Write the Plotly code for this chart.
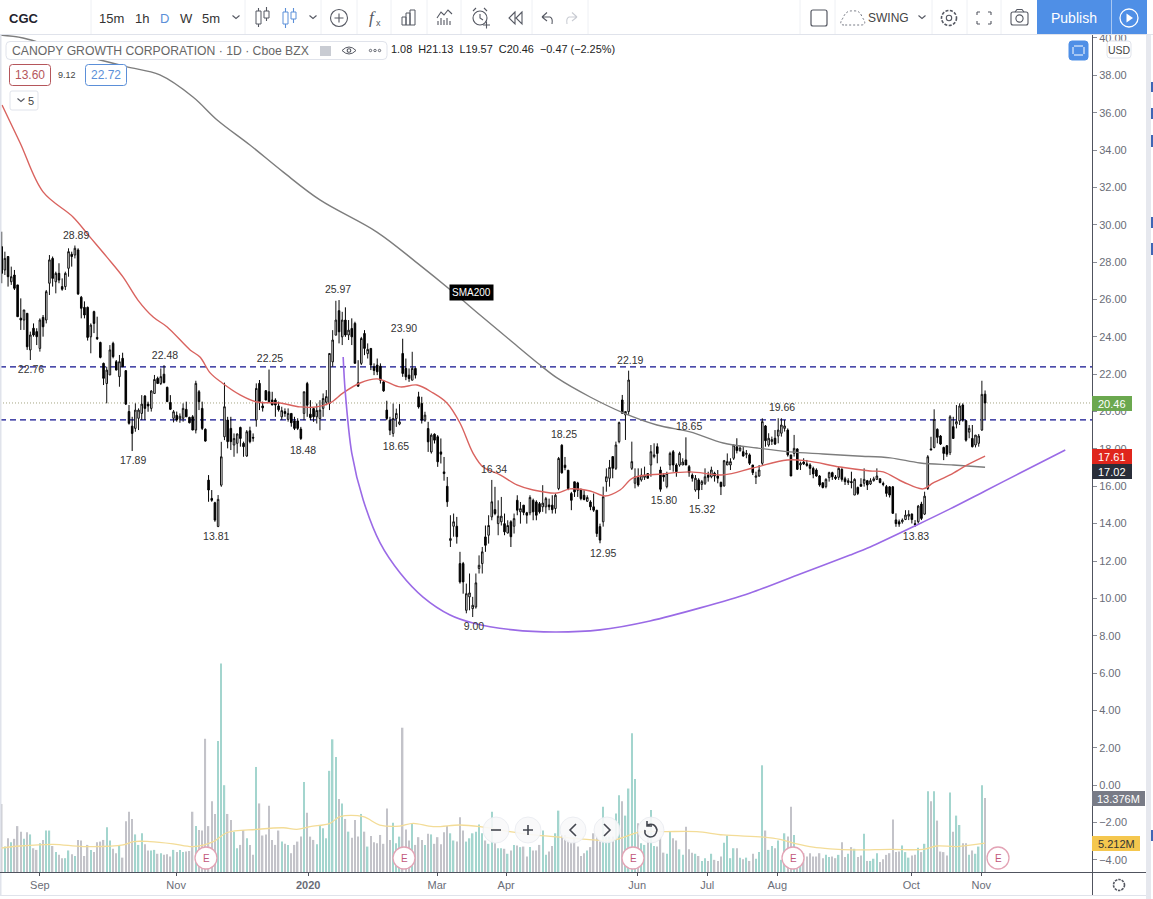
#!/usr/bin/env python3
"""CGC daily candles with SMA50, SMA200, cup curve and volume, laid out like the trading screen."""
import plotly.graph_objects as go

# daily bars, oldest first
opens = [
    28.83,27.58,28.30,26.95,27.31,26.78,25.00,24.90,25.26,23.30,
    24.46,24.28,23.38,25.04,24.90,26.87,28.20,26.95,27.40,26.69,
    26.69,27.67,28.42,28.38,28.65,26.12,25.58,25.58,24.00,25.35,
    23.97,23.70,22.58,21.50,21.96,23.65,22.67,21.87,22.85,22.19,
    20.00,19.22,19.10,19.64,19.90,20.83,20.40,20.17,20.97,21.78,
    21.50,22.00,21.30,20.49,19.64,19.80,19.60,19.64,20.12,19.69,
    19.72,19.01,21.06,20.17,19.05,16.33,15.35,15.12,13.85,16.06,
    18.65,19.55,19.10,18.21,18.30,19.15,18.30,17.62,18.97,18.62,
    19.55,21.51,20.30,21.12,21.06,20.62,20.62,20.30,19.72,20.00,
    19.58,19.90,19.50,19.50,19.06,19.90,21.50,19.86,20.16,19.72,
    19.63,20.17,20.50,20.43,22.66,24.09,25.40,24.00,24.90,24.10,
    24.45,24.72,21.54,22.58,24.18,23.10,23.38,22.40,22.49,22.43,
    21.59,20.08,19.54,18.83,19.63,19.33,23.11,22.31,21.95,21.68,
    22.31,20.79,20.43,19.54,19.09,17.84,18.79,18.65,17.84,16.77,
    16.00,13.10,13.86,13.86,11.86,11.86,9.36,10.08,9.45,9.54,
    11.60,11.86,13.29,13.38,14.36,14.75,14.00,14.10,14.00,13.50,
    14.10,13.86,15.25,14.63,14.99,14.58,14.58,15.25,15.16,15.07,
    14.90,14.90,15.00,14.99,14.81,15.88,18.20,17.13,16.86,15.61,
    16.24,16.18,15.83,15.52,15.20,15.16,14.90,14.72,13.84,14.10,
    16.25,16.43,17.59,16.96,18.39,20.62,19.82,20.00,16.96,16.16,
    16.48,16.34,16.48,16.68,17.14,17.59,18.12,16.87,16.60,15.98,
    17.14,17.85,17.14,17.14,17.14,17.41,17.05,16.60,15.80,16.34,
    16.10,16.16,16.60,16.51,16.70,16.55,16.21,16.02,17.14,17.14,
    17.50,18.12,17.91,17.85,17.71,17.68,17.14,16.48,16.55,17.23,
    19.23,18.21,18.40,18.57,18.69,18.84,19.10,19.01,17.68,17.76,
    18.00,17.14,17.30,17.20,17.14,16.96,16.87,16.55,16.19,15.98,
    16.46,16.73,16.50,16.48,16.91,16.40,16.20,16.25,15.53,15.94,
    16.10,16.16,16.30,16.12,16.30,16.37,16.40,16.15,15.98,15.97,
    15.97,14.20,14.10,14.10,14.22,14.40,14.51,14.00,14.10,15.05,
    14.51,15.88,18.00,18.08,19.05,18.69,18.08,18.17,17.80,19.19,
    19.33,19.50,20.35,19.51,18.90,18.56,18.21,18.30,19.01,20.93,
]
highs = [
    29.63,28.56,28.30,27.76,27.58,26.78,26.06,25.44,25.26,24.28,
    24.72,24.46,24.99,25.17,26.51,28.38,28.30,27.49,27.94,27.13,
    27.49,28.74,28.56,28.89,28.74,26.19,25.90,25.62,24.72,25.40,
    25.08,23.74,22.62,22.40,23.56,23.74,22.76,23.03,23.15,22.22,
    20.35,19.72,20.44,20.17,20.88,20.88,20.53,21.15,21.96,21.87,
    22.31,22.48,21.33,20.88,20.08,20.00,19.90,20.44,20.53,19.72,
    19.81,21.65,21.15,20.53,19.10,16.60,15.80,15.17,15.53,18.38,
    21.55,19.72,19.72,18.83,18.83,19.19,18.39,19.01,19.19,18.83,
    21.51,21.69,20.53,21.15,22.25,21.06,20.71,20.53,20.26,20.17,
    20.17,19.90,19.72,19.64,19.18,21.06,21.59,20.61,20.16,20.43,
    20.61,20.97,21.15,23.11,24.36,25.93,25.97,25.34,25.58,24.90,
    24.99,24.81,22.75,24.00,24.36,23.65,23.38,22.58,22.84,22.58,
    21.68,20.58,19.72,20.43,20.16,20.40,23.90,22.84,22.31,23.20,
    22.36,21.06,20.79,19.99,19.45,18.83,18.83,18.74,18.56,17.57,
    16.50,14.45,14.54,14.36,12.49,11.95,10.79,11.33,10.08,11.33,
    12.30,12.75,13.90,14.45,16.34,15.97,15.25,15.43,14.54,14.18,
    14.18,14.54,15.52,15.16,14.99,14.63,15.52,15.34,15.25,15.16,
    16.06,15.43,15.34,15.52,15.61,17.57,18.25,17.57,16.86,15.70,
    16.24,16.24,15.88,15.79,15.52,15.25,15.61,14.72,14.00,15.98,
    16.96,17.41,17.59,18.39,19.46,20.89,20.00,22.19,18.39,16.96,
    16.96,16.96,17.05,16.70,18.21,18.30,18.30,17.05,16.70,16.78,
    17.85,17.94,17.23,17.85,17.50,18.62,17.14,16.69,16.60,16.43,
    16.34,16.96,16.78,17.05,16.78,16.87,16.25,17.41,17.76,17.50,
    18.21,18.57,18.21,18.12,17.94,17.76,17.14,16.78,17.14,19.64,
    19.28,18.84,18.66,19.01,19.64,19.64,19.55,19.10,17.68,18.75,
    18.03,17.32,17.50,17.41,17.23,17.05,16.96,16.60,16.19,16.43,
    16.78,16.78,16.60,17.05,16.96,16.51,16.43,16.78,16.43,15.98,
    16.43,16.96,16.34,16.43,16.51,16.96,16.43,16.25,16.07,16.01,
    16.01,14.55,14.22,14.28,14.72,14.72,14.55,14.19,15.00,15.17,
    15.71,17.67,18.65,20.12,19.10,18.74,18.12,18.21,19.81,19.72,
    20.35,20.44,20.44,19.55,19.28,19.28,18.74,18.80,21.65,21.13,
]
lows = [
    26.87,27.31,26.69,26.78,26.51,25.08,24.37,24.37,23.30,22.76,
    24.01,23.56,23.21,24.01,24.72,26.24,26.69,26.33,26.87,26.47,
    26.51,27.22,27.76,28.20,26.24,24.99,24.99,23.80,23.12,24.20,
    23.83,22.85,21.42,20.44,21.96,22.85,22.22,21.33,22.40,20.35,
    19.30,17.89,18.92,19.01,19.55,19.55,19.99,20.00,20.97,21.50,
    21.42,21.51,20.53,20.08,19.42,19.46,19.40,19.46,19.72,19.37,
    19.01,18.83,20.08,19.01,18.39,15.17,15.17,14.10,13.81,15.97,
    18.47,18.03,17.94,17.58,17.76,18.12,17.58,17.58,18.30,18.39,
    19.19,20.08,20.00,20.60,20.53,20.35,19.72,20.00,19.55,19.72,
    19.46,19.19,19.01,19.01,18.48,19.54,19.72,19.54,19.45,19.36,
    19.00,19.72,20.34,20.08,22.40,24.09,23.65,23.56,24.00,23.83,
    23.56,22.58,21.33,22.49,23.02,22.84,22.22,21.95,21.95,21.50,
    21.06,19.54,18.74,18.65,19.18,19.27,21.86,21.68,21.59,21.68,
    21.77,20.16,19.36,19.45,17.84,17.75,18.29,17.04,17.22,16.30,
    14.90,12.75,13.30,12.93,10.79,10.25,9.20,9.36,9.00,9.45,
    11.33,11.33,12.49,12.93,14.18,14.45,13.38,13.90,13.38,13.47,
    12.75,13.47,14.45,14.00,14.45,14.00,14.45,14.18,14.18,14.54,
    14.63,14.54,14.72,14.54,14.54,15.79,16.68,16.86,15.79,14.72,
    15.43,15.43,15.25,15.25,15.16,14.72,14.63,13.29,12.95,13.84,
    15.71,15.98,16.43,16.87,18.30,19.91,18.48,19.82,16.87,15.89,
    15.98,16.25,16.34,16.43,16.51,17.50,17.23,15.71,16.25,15.89,
    16.87,16.78,16.51,17.05,17.14,17.14,16.51,16.25,15.71,15.32,
    15.80,16.07,16.25,16.43,16.25,16.16,15.53,15.98,17.14,16.87,
    17.41,17.76,17.85,17.59,17.50,17.14,16.60,16.12,16.51,17.14,
    18.12,18.12,18.21,18.21,18.30,18.66,18.93,17.59,16.55,17.59,
    16.87,16.87,17.14,17.05,16.60,16.43,16.51,15.98,15.89,15.89,
    16.25,16.34,16.34,16.34,16.25,16.07,16.07,15.89,15.53,15.53,
    15.98,15.98,15.80,16.07,16.25,16.34,16.16,16.00,15.44,15.40,
    14.55,13.83,13.83,14.00,14.19,14.19,14.01,13.83,14.00,14.19,
    14.46,15.80,17.94,18.03,18.30,18.21,17.40,17.58,17.67,18.56,
    19.10,19.28,19.46,18.39,18.57,18.08,18.08,18.12,18.97,19.57,
]
closes = [
    27.40,28.20,27.22,27.22,26.60,25.08,24.90,25.44,23.47,24.10,
    24.10,24.01,24.90,24.54,26.42,28.12,27.13,27.40,27.04,26.55,
    27.40,28.56,28.30,28.74,26.30,25.53,25.17,23.97,24.63,24.72,
    23.90,22.90,21.78,22.22,23.30,22.94,22.22,22.67,22.40,20.40,
    19.37,18.83,20.08,20.08,20.40,20.17,20.30,21.10,21.72,21.50,
    21.87,21.55,20.53,20.12,19.99,19.55,19.75,20.17,19.72,19.40,
    19.01,21.51,20.53,19.10,18.42,15.80,15.25,14.19,15.30,17.58,
    20.26,18.39,18.39,18.56,18.80,18.56,18.12,18.92,18.39,18.58,
    21.24,20.53,20.20,20.62,20.53,20.35,20.35,20.10,20.05,19.90,
    19.90,19.40,19.10,19.10,18.56,21.06,20.34,19.68,19.72,20.06,
    20.08,20.70,20.80,23.11,23.83,24.90,24.27,24.90,24.10,24.36,
    24.00,22.58,21.36,23.91,23.38,23.33,22.49,22.20,22.13,21.68,
    21.11,19.63,19.00,19.63,19.90,19.45,22.04,21.86,21.77,22.31,
    21.95,20.25,19.54,19.81,18.38,18.74,18.47,17.31,17.72,16.68,
    15.17,13.20,14.10,13.30,10.88,10.88,10.25,10.29,9.63,10.83,
    11.77,12.49,12.84,13.90,15.17,14.54,14.40,14.40,13.56,13.90,
    13.30,14.27,14.72,14.80,14.60,14.45,15.40,14.63,14.45,14.63,
    15.10,15.34,14.90,14.75,15.52,17.49,16.72,17.00,15.88,15.25,
    15.70,15.79,15.34,15.29,15.40,14.90,14.72,13.47,13.12,15.44,
    16.51,17.01,16.96,18.21,19.41,19.91,20.00,21.69,17.32,16.51,
    16.07,16.60,16.60,16.43,17.85,17.68,17.76,15.84,16.50,16.69,
    17.76,17.14,16.78,17.76,17.30,17.14,16.73,16.43,16.43,15.80,
    16.25,16.51,16.48,16.87,16.55,16.43,15.98,17.37,17.32,17.32,
    18.21,17.91,18.05,17.62,17.76,17.23,16.73,16.55,16.87,19.46,
    18.44,18.57,18.50,18.26,19.01,19.28,19.23,17.68,16.55,18.03,
    16.91,17.23,17.20,17.12,16.96,16.66,16.55,16.07,15.93,16.37,
    16.73,16.51,16.42,16.96,16.37,16.25,16.30,16.20,16.37,15.62,
    16.00,16.37,16.07,16.30,16.40,16.55,16.20,16.10,15.62,15.53,
    14.55,14.00,13.98,14.19,14.46,14.50,14.22,13.95,14.94,14.28,
    15.47,17.58,17.95,19.58,18.62,18.26,17.76,17.72,19.72,18.56,
    19.46,20.30,19.55,18.47,19.10,18.12,18.74,18.69,20.92,20.46,
]
# volume in millions of shares
volumes = [
    12.3,4.6,6.1,5.4,6.0,8.3,7.3,6.0,7.2,6.8,
    4.3,4.0,5.2,5.8,7.5,7.5,4.7,3.6,3.1,2.5,
    2.5,3.9,3.2,2.9,5.8,5.7,2.9,4.9,4.0,3.6,
    5.4,5.5,5.8,8.1,5.7,4.2,3.4,4.7,2.6,9.2,
    10.9,9.6,6.8,4.9,7.0,5.0,3.9,3.9,4.0,3.3,
    3.4,3.1,3.2,2.8,4.0,3.6,4.0,3.6,3.7,3.8,
    10.9,8.3,7.6,7.5,24.1,8.3,12.8,10.5,23.7,37.7,
    15.7,10.5,9.4,7.3,4.3,4.9,7.6,6.1,4.9,3.1,
    19.0,12.4,6.6,6.8,12.0,5.8,4.9,7.5,5.5,5.1,
    4.9,3.4,4.9,5.5,6.4,16.3,10.7,6.4,5.8,5.0,
    8.4,7.9,6.1,18.3,24.0,20.8,13.2,12.4,9.6,7.3,
    6.2,9.4,6.4,10.5,7.3,4.6,6.5,5.4,5.2,6.7,
    5.1,11.5,5.8,8.9,5.2,6.4,26.1,7.7,5.7,8.7,
    4.9,6.3,5.8,4.9,6.9,6.8,5.1,6.3,5.0,7.2,
    8.3,7.0,5.7,5.5,9.9,7.5,5.5,6.1,7.0,7.3,
    8.6,7.0,5.7,5.1,10.9,5.2,4.3,4.3,4.2,3.3,
    3.9,4.9,4.8,4.5,4.6,2.8,4.5,3.9,3.9,4.9,
    7.5,3.1,3.7,4.7,7.0,11.1,6.7,6.7,5.8,5.2,
    6.3,4.6,2.9,3.4,3.9,4.5,7.0,6.4,5.5,11.8,
    6.4,6.4,6.4,10.6,13.9,12.8,10.2,15.1,25.1,16.8,
    8.8,5.2,4.9,7.3,11.2,4.7,4.6,6.3,3.5,3.3,
    7.4,6.1,5.7,4.1,3.1,8.2,4.1,3.5,3.3,2.9,
    2.0,2.5,2.0,3.3,2.2,2.0,2.8,5.3,6.6,2.5,
    4.3,4.3,2.6,2.3,2.6,2.0,3.3,2.4,3.6,19.3,
    7.5,4.0,4.7,4.3,5.7,2.2,7.0,6.4,11.8,6.7,
    3.0,3.4,3.4,2.8,3.4,2.8,2.8,3.4,2.5,3.1,
    2.7,2.8,2.5,3.1,5.4,2.7,3.3,4.5,4.2,2.7,
    3.0,6.9,2.0,2.0,2.4,3.4,1.8,2.3,3.1,3.4,
    9.5,3.6,3.7,4.8,3.6,2.6,3.0,3.1,4.4,3.6,
    5.1,14.6,12.8,14.6,9.3,3.7,3.6,3.0,14.4,7.3,
    10.2,8.5,5.2,5.2,3.1,3.9,3.3,4.6,15.7,13.376,
]

# moving averages and the drawn curve, read at bar positions
sma50_x = [0.1,5.8,13,22.4,27.7,33,38.1,42.8,47.6,52,59.2,62.3,65.5,69.2,74.9,80.2,87.5,93.7,99,103.2,
           107.3,112.6,118,121,125.2,130.5,135.5,139.9,144,148.1,151.3,156.6,161.9,167,174.5,178.6,184.9,
           189.6,194.3,198.4,207.8,216.3,226.7,236.1,246.8,253.1,263.5,272.9,277,283.3,289.5,292.7,298,303.4,309]
sma50_y = [36.41,34.38,31.76,30.42,29.35,28.28,27.21,25.97,25.06,24.53,23.3,22.92,22.07,21.54,20.89,20.51,20.46,20.25,20.25,20.46,
           21.0,21.53,21.75,21.59,21.32,21.42,21.0,20.46,19.39,17.78,17.03,16.61,16.07,15.8,15.64,15.86,15.75,
           15.48,15.8,16.45,16.66,16.77,16.61,16.98,17.41,17.36,17.03,16.82,16.77,16.23,15.86,16.18,16.61,17.14,17.61]
sma200_x = [-0.5,6.7,18.3,30.9,39.4,49.7,60.1,67.7,78,88.4,100,117.9,130.5,141.8,150.3,159.7,169.2,174.5,184.9,195.3,
            205.9,216.3,226.7,237.4,247.7,258.1,268.8,279.2,288.6,299,309]
sma200_y = [40.16,40.0,39.41,38.82,38.45,38.02,36.84,35.61,34.27,32.83,31.33,29.61,27.96,26.4,25.17,23.83,22.49,21.8,20.78,19.93,
            19.28,18.91,18.32,18.05,17.84,17.73,17.62,17.52,17.25,17.14,17.02]
curve_x = [107.3,107.9,110,113.6,118.9,125.2,132.4,140.9,148.1,160.7,173.9,188,203.7,219.5,235.2,250.9,266.6,272.9,287.6,298,309,320,334.2]
curve_y = [22.92,21.16,17.78,15.27,12.97,11.36,10.07,9.11,8.68,8.31,8.2,8.31,8.79,9.49,10.29,11.31,12.32,12.75,13.93,14.79,15.75,16.71,17.94]
vol_ma_x = [-0.5,5.8,16.2,25.7,38.2,41.4,46.6,53.9,60.2,66.5,70.7,80.1,88.5,92.7,96.9,103.1,106.3,113.6,118.8,125,
            129.3,135.6,144,150.3,159.7,167,175.4,183.8,192.2,200.5,209,218.4,226.7,239.3,244.6,249.8,255,260.3,267.6,279.2,289.6,293.8,300.1,309]
vol_ma_y = [4.3,4.7,5.0,4.6,4.9,5.5,5.5,5.1,4.6,5.5,7.1,7.7,8.0,7.7,8.2,8.8,10.0,10.0,8.5,8.3,
            8.8,8.2,8.5,8.2,7.3,6.7,6.3,5.9,5.8,7.2,7.3,7.3,6.7,6.3,5.9,5.1,4.5,4.2,4.0,4.1,4.1,4.7,4.6,5.212]

# high / low captions on the chart
pivot_text = ["28.89","22.76","22.48","17.89","13.81","22.25","18.48","25.97","23.90","18.65",
              "16.34","18.25","9.00","12.95","15.80","15.32","18.65","22.19","19.66","13.83"]
pivot_x = [23.4,9.2,51.3,41.3,67.4,84.3,94.7,105.7,126.4,123.9,154.7,176.7,148.4,189,208.1,220.1,216,197.5,245.2,287.3]
pivot_y = [29.4,22.23,22.98,17.36,13.29,22.82,17.89,26.51,24.42,18.1,16.87,18.75,8.47,12.38,15.21,14.73,19.18,22.71,20.19,13.29]

level_prices = [22.39, 19.55]
month_ticks = [12.0, 54.8, 96.3, 136.8, 158.5, 199.7, 221.7, 243.7, 285.8, 307.8]
month_labels = ["Sep", "Nov", "<b>2020</b>", "Mar", "Apr", "Jun", "Jul", "Aug", "Oct", "Nov"]
earnings_px = [206, 404, 633, 793, 998]

assert len(opens) == len(highs) == len(lows) == len(closes) == len(volumes), (len(opens), len(highs), len(lows), len(closes), len(volumes))
bars_x = list(range(len(opens)))

FONT = "Liberation Sans"
GREY = "#6a6d78"
BORDER = "#e0e3eb"
ICON = "#555862"
BLUE = "#4f8fe6"

fig = go.Figure()

vol_colors = ["#a3d5ce" if c >= o else "#c3c3c9" for o, c in zip(opens, closes)]
fig.add_trace(go.Bar(x=bars_x, y=volumes, width=0.45, marker=dict(color=vol_colors, line_width=0),
                     yaxis="y2", hoverinfo="skip"))
fig.add_trace(go.Scatter(x=vol_ma_x, y=vol_ma_y, mode="lines", yaxis="y2",
                         line=dict(color="#f3dc97", width=1.3, shape="spline"), hoverinfo="skip"))

fig.add_trace(go.Scatter(x=sma200_x, y=sma200_y, mode="lines", line=dict(color="#7d7d7d", width=1.4, shape="spline")))
fig.add_trace(go.Scatter(x=sma50_x, y=sma50_y, mode="lines", line=dict(color="#d9635f", width=1.4, shape="spline")))
fig.add_trace(go.Scatter(x=curve_x, y=curve_y, mode="lines", line=dict(color="#9a6ae6", width=1.6, shape="spline", smoothing=0.8)))

fig.add_trace(go.Candlestick(
    x=bars_x, open=opens, high=highs, low=lows, close=closes,
    increasing=dict(line=dict(color="#111111", width=1), fillcolor="#ffffff"),
    decreasing=dict(line=dict(color="#000000", width=1), fillcolor="#000000"),
    whiskerwidth=0,
))

fig.add_trace(go.Scatter(x=pivot_x, y=pivot_y, text=pivot_text, mode="text",
                         textfont=dict(family=FONT, size=10.5, color="#333333"), hoverinfo="skip"))

# empty helper axes covering the whole page, for the app chrome
fig.add_trace(go.Scatter(x=[0], y=[0], mode="markers", marker_opacity=0, xaxis="x2", yaxis="y3", hoverinfo="skip"))

for level in level_prices:
    fig.add_shape(type="line", xref="x2", x0=0, x1=1092, yref="y", y0=level, y1=level,
                  line=dict(color="#10108f", width=1.2, dash="6px,4px"), layer="below")
fig.add_shape(type="line", xref="x2", x0=0, x1=1092, yref="y", y0=closes[-1], y1=closes[-1],
              line=dict(color="#a5a583", width=1, dash="1px,2px"), layer="below")


def rect(x0, y0, x1, y1, fill="rgba(0,0,0,0)", line=None, w=1):
    fig.add_shape(type="rect", xref="x2", yref="y3", x0=x0, y0=y0, x1=x1, y1=y1, fillcolor=fill,
                  line=dict(color=line or fill, width=w if line else 0))


def rrect(x0, y0, x1, y1, r=3, fill="#ffffff", line=BORDER, w=1):
    path = (f"M{x0+r},{y0} L{x1-r},{y0} Q{x1},{y0} {x1},{y0+r} L{x1},{y1-r} Q{x1},{y1} {x1-r},{y1} "
            f"L{x0+r},{y1} Q{x0},{y1} {x0},{y1-r} L{x0},{y0+r} Q{x0},{y0} {x0+r},{y0} Z")
    fig.add_shape(type="path", xref="x2", yref="y3", path=path, fillcolor=fill, line=dict(color=line, width=w))


def stroke(path, color=ICON, w=1.1, dash="solid"):
    fig.add_shape(type="path", xref="x2", yref="y3", path=path, line=dict(color=color, width=w, dash=dash))


def circle(cx, cy, r, fill="rgba(0,0,0,0)", line=ICON, w=1.1, dash="solid"):
    fig.add_shape(type="circle", xref="x2", yref="y3", x0=cx-r, x1=cx+r, y0=cy-r, y1=cy+r, fillcolor=fill,
                  line=dict(color=line, width=w, dash=dash))


def label(x, y, text, size=11, color="#333333", anchor="center", family=FONT):
    fig.add_annotation(xref="x2", yref="y3", x=x, y=y, text=text, showarrow=False, xanchor=anchor, yanchor="middle",
                       font=dict(family=family, size=size, color=color))


def chevron(x, y, w=3.5, color=ICON):
    stroke(f"M{x-w},{y-1.5} L{x},{y+1.5} L{x+w},{y-1.5}", color)


# page edges and axis lines
rect(0, 35, 1.5, 895, fill=BORDER)
rect(1146, 35, 1151, 899, fill="#e6e8ee")
stroke("M0,895.5 L1146,895.5", BORDER, 1)
stroke("M1092.5,35 L1092.5,895", "#50535e", 1)
stroke("M0,872.5 L1146,872.5", "#50535e", 1)
for y0, y1 in [(82, 92), (108, 119), (135, 147), (217, 228), (243, 255), (830, 841)]:
    rect(1151, y0, 1153, y1, fill="#3f66b5")

# toolbar
stroke("M0,34.5 L1153,34.5", BORDER, 1)
for sx in [91, 245, 321, 357, 391, 427, 461, 532, 588, 800, 835, 932, 967, 1001]:
    stroke(f"M{sx},0 L{sx},34", "#eef0f4", 1)
label(24, 18, "<b>CGC</b>", 13, "#1e222d")
for tx, tt, tc in [(111, "15m", "#333333"), (142, "1h", "#333333"), (164, "D", "#5b8fd8"), (186, "W", "#333333"), (211, "5m", "#333333")]:
    label(tx, 18, tt, 13, tc)
chevron(236, 17)
# candle style icons
rect(256, 11, 261, 24, line=ICON)
stroke("M258.5,8 L258.5,11 M258.5,24 L258.5,27", ICON)
rect(264, 11, 269, 18, line=ICON)
stroke("M266.5,7 L266.5,11 M266.5,18 L266.5,21", ICON)
rect(283, 12, 288, 24, line="#5b8fd8")
stroke("M285.5,8 L285.5,12 M285.5,24 L285.5,28", "#5b8fd8")
rect(291, 12, 296, 19, line="#5b8fd8")
stroke("M293.5,8 L293.5,12 M293.5,19 L293.5,23", "#5b8fd8")
chevron(313, 17)
circle(339, 18, 8.5)
stroke("M334.5,18 L343.5,18 M339,13.5 L339,22.5")
label(372, 17, "<i>f</i>", 17, ICON, family="Liberation Serif")
label(378, 23, "x", 9, ICON)
rect(402, 17, 406, 25, line=ICON)
rect(406, 13, 410, 25, line=ICON)
rect(410, 10, 415, 25, line=ICON)
stroke("M437,18 L441,12 L444,15 L448,10 L452,14", ICON)
stroke("M438,25 L438,21 M441,25 L441,18 M444,25 L444,20 M447,25 L447,18 M450,25 L450,21", ICON)
circle(480, 18, 7)
stroke("M473,11 L476,8 M487,11 L484,8 M480,14 L480,18 L483,20 M483,25 L490,25 M486.5,21.5 L486.5,28.5")
stroke("M515,12 L509,18 L515,24 Z M522,12 L516,18 L522,24 Z")
stroke("M542,17 L547,12.5 M542,17 L547,21 M542,17 L550,17 Q553,18 552,24")
stroke("M577,17 L572,12.5 M577,17 L572,21 M577,17 L569,17 Q566,18 567,24", "#c9ccd3")
# right side of the toolbar
rrect(811, 10, 827, 26, r=2, fill="rgba(0,0,0,0)", line=ICON, w=1.2)
stroke("M844,25 Q838,25 843,18 Q846,10 853,11 Q860,10 862,17 Q868,25 861,25 Z", "#777a85", 1, dash="2px,2px")
label(888, 18, "SWING", 12, "#444444")
chevron(922, 17)
circle(949, 18, 7.5, dash="3px,1.5px", w=1.6)
circle(949, 18, 2.7)
stroke("M977,12 L977,15 M977,12 L980,12 M991,12 L988,12 M991,12 L991,15 "
       "M977,24 L977,21 M977,24 L980,24 M991,24 L988,24 M991,24 L991,21")
rrect(1011, 12, 1028, 25, r=2, fill="rgba(0,0,0,0)", line=ICON, w=1.1)
stroke("M1015,12 L1017,9.5 L1022,9.5 L1024,12")
circle(1019.5, 18.5, 3.6)
rect(1037, 0, 1147, 34, fill=BLUE)
stroke("M1111.5,0 L1111.5,34", "#a8c7f2", 1)
label(1074, 18, "Publish", 14, "#ffffff")
circle(1129, 18, 9, line="#ffffff", w=1.3)
fig.add_shape(type="path", xref="x2", yref="y3", path="M1126.5,13.5 L1133,18 L1126.5,22.5 Z", fillcolor="#ffffff", line=dict(width=0))

# legend row and pills
rrect(6, 41.5, 387, 59.5, r=4)
label(10, 50.5, "CANOPY GROWTH CORPORATION · 1D · Cboe BZX", 12.2, "#666666", "left")
rect(320, 46, 331, 56, fill="#c9ccd3")
stroke("M342,50.5 Q349,43.5 356,50.5 Q349,57.5 342,50.5 Z", ICON, 1)
circle(349, 50.5, 1.8, line=ICON)
for dx in [370.5, 375, 379.5]:
    circle(dx, 50.5, 1.2, line=ICON, w=0.9)
label(388.5, 48.5, "1.08  H21.13  L19.57  C20.46  −0.47 (−2.25%)", 10.9, "#222222", "left")
rrect(9.5, 64.5, 50.5, 85.5, r=3, line="#b5565b")
label(30, 75, "13.60", 12, "#b5565b")
label(67, 75, "9.12", 9, "#444444")
rrect(85.5, 64.5, 126.5, 85.5, r=3, line="#5b8fd8")
label(106, 75, "22.72", 12, "#5b8fd8")
rrect(10, 91, 38, 110, r=2)
chevron(21, 100)
label(31, 100.5, "5", 11, "#444444")
rrect(1069, 41, 1088, 60, r=3, fill=BLUE, line=BLUE)
stroke("M1074,46 L1083,46 M1074,55 L1083,55 M1073,47 L1073,54 M1084,47 L1084,54", "#ffffff", 1)
rrect(1107, 41, 1131, 58, r=3)
label(1119, 49.5, "USD", 10.5, "#444444")

# SMA label and axis tags, values from the data lists
fig.add_annotation(x=147.6, y=26.35, text="SMA200", showarrow=False, bgcolor="#000000", borderpad=2,
                   font=dict(family=FONT, size=10, color="#ffffff"))
rect(1092, 396, 1132, 411, fill="#6ba84f")
label(1112, 403.5, f"{closes[-1]:.2f}", 11, "#ffffff")
rect(1092, 449, 1132, 464, fill="#e0261c")
label(1112, 456.5, f"{sma50_y[-1]:.2f}", 11, "#ffffff")
rect(1092, 464, 1132, 479, fill="#2a2e39")
label(1112, 471.5, f"{sma200_y[-1]:.2f}", 11, "#ffffff")
rect(1092, 791, 1145, 806, fill="#787b86")
label(1118, 798.5, f"{volumes[-1]:.3f}M", 11, "#ffffff")
rect(1092, 836, 1140, 851, fill="#f5c74e")
label(1116, 843.5, f"{vol_ma_y[-1]:.3f}M", 11, "#333333")

# earnings markers
for ex in earnings_px:
    circle(ex, 858, 11, fill="#ffffff", line="#e3a3b5", w=1.3)
    label(ex, 858, "E", 10, "#c2577a")

# floating navigation buttons
for bx in [496, 528, 573, 607, 651]:
    circle(bx, 830, 13, fill="rgba(248,248,250,0.9)", line="rgba(230,232,238,0.7)", w=1)
stroke("M491,830 L501,830", "#444750", 1.6)
stroke("M523,830 L533,830 M528,825 L528,835", "#444750", 1.6)
stroke("M576,824 L570,830 L576,836", "#444750", 1.6)
stroke("M604,824 L610,830 L604,836", "#444750", 1.6)
stroke("M647,825 Q655,822 657,830 Q656,837 650,837 Q644,836 645,830 M647,821 L647,826 L652,826", "#444750", 1.6)

# settings gear at the bottom right
circle(1119, 885, 5.5, dash="2.5px,1px", w=1.6)

fig.update_layout(
    width=1153, height=899, autosize=False,
    margin=dict(l=0, r=0, t=0, b=0), paper_bgcolor="#ffffff", plot_bgcolor="rgba(0,0,0,0)",
    showlegend=False, hovermode=False, barmode="overlay", dragmode=False,
    font=dict(family=FONT, size=11, color=GREY),
    xaxis=dict(domain=[0, 1092 / 1153], range=[-0.534, 342.6], anchor="y", rangeslider=dict(visible=False),
               automargin=False, tickmode="array", tickvals=month_ticks, ticktext=month_labels,
               ticks="outside", ticklen=3, tickcolor="#50535e", showline=False,
               showgrid=False, zeroline=False, tickfont=dict(family=FONT, size=11, color=GREY)),
    yaxis=dict(domain=[(899 - 872) / 899, 1 - 35 / 899], range=[-4.65, 40.16], side="right", anchor="x",
               automargin=False, tick0=0, dtick=2, tickformat=".2f", ticks="outside", ticklen=4, tickcolor="#8a8d96",
               showline=False, showgrid=False, zeroline=False,
               tickfont=dict(family=FONT, size=11, color=GREY)),
    yaxis2=dict(overlaying="y", side="right", range=[0, 151.4], visible=False, showgrid=False, zeroline=False, automargin=False),
    xaxis2=dict(domain=[0, 1], range=[0, 1153], anchor="y3", visible=False, showgrid=False, zeroline=False, automargin=False),
    yaxis3=dict(domain=[0, 1], range=[899, 0], anchor="x2", visible=False, showgrid=False, zeroline=False, automargin=False),
)

fig.write_html("out.html", config={"displayModeBar": False},
               post_script="document.body.style.margin='0';document.documentElement.style.overflow='hidden';")
